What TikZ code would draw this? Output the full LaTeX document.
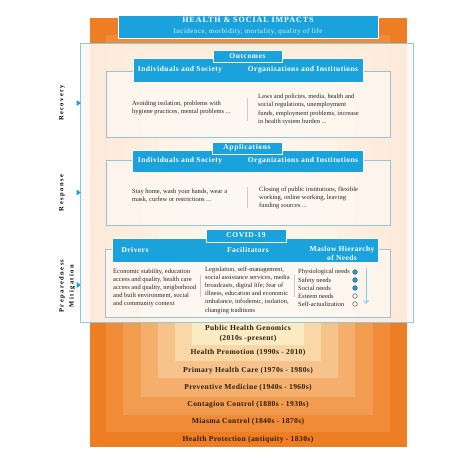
\documentclass[tikz,border=0pt]{standalone}
\usepackage{fontspec}
\setmainfont{Liberation Serif}
\usepackage{xcolor}
\usepackage{tikz}
\usetikzlibrary{
  arrows.meta,
  positioning,
  calc
}

\definecolor{impactblue}{HTML}{1AA2DD}
\definecolor{framecyan}{HTML}{86CBE5}
\definecolor{panelgrey}{HTML}{96C4D0}
\definecolor{bodytext}{HTML}{262626}
\definecolor{eratext}{HTML}{2E1E10}
\definecolor{veil}{HTML}{FFF6EF}
\definecolor{eraA}{HTML}{EE7E24}
\definecolor{eraB}{HTML}{F08B37}
\definecolor{eraC}{HTML}{F29C50}
\definecolor{eraD}{HTML}{F5AF6D}
\definecolor{eraE}{HTML}{F7C38C}
\definecolor{eraF}{HTML}{FAD7A7}
\definecolor{eraG}{HTML}{FCEBC3}

\tikzset{
  era/.style={text=eratext, align=center, inner sep=0pt,
    font=\bfseries\fontsize{7.6}{10}\selectfont\addfontfeatures{LetterSpace=5}},
  tabbox/.style={fill=impactblue, draw=white, line width=0.9pt, text=white, inner sep=0pt,
    font=\bfseries\fontsize{7.5}{9}\selectfont\addfontfeatures{LetterSpace=8}},
  bar/.style={fill=impactblue, draw=white, line width=0.5pt},
  panel/.style={draw=panelgrey, line width=0.6pt, fill=white, fill opacity=0.45},
  headtxt/.style={text=white, align=center, inner sep=0pt,
    font=\bfseries\fontsize{7.5}{9}\selectfont\addfontfeatures{LetterSpace=6}},
  bodytxt/.style={text=bodytext, align=left, inner sep=0pt, anchor=west,
    font=\fontsize{6.5}{8.2}\selectfont},
  phase/.style={rotate=90, align=center, inner sep=0pt,
    font=\bfseries\fontsize{6.5}{10}\selectfont\addfontfeatures{LetterSpace=22}},
  divider/.style={draw=black!20, line width=0.6pt}
}

\begin{document}
\begin{tikzpicture}[x=1pt, y=-1pt]
\useasboundingbox (0,0) rectangle (474,458);

% nested eras of public health
\foreach \l/\r/\t/\b/\c in {90/407/18/447/eraA, 106/390/35/432/eraB, 123/373/52/415/eraC,
    141/355/69/397/eraD, 158/338/86/378/eraE, 175/321/103/361/eraF, 192/304/120/345/eraG}
  \fill[\c] (\l,\t) rectangle (\r,\b);

\node[era] (genomics) at (248,334) {Public Health Genomics\\(2010s -present)};
\node[era] (promotion) at (248,353) {Health Promotion (1990s - 2010)};
\node[era] (primary) at (248,370.5) {Primary Health Care (1970s - 1980s)};
\node[era] (preventive) at (248,388) {Preventive Medicine (1940s - 1960s)};
\node[era] (contagion) at (248,405) {Contagion Control (1880s - 1930s)};
\node[era] (miasma) at (248,422) {Miasma Control (1840s - 1870s)};
\node[era] (protection) at (248,439.5) {Health Protection (antiquity - 1830s)};

% pale frame over the eras
\draw[draw=framecyan, line width=0.8pt, fill=veil, fill opacity=0.9] (80,43) rectangle (413,322);

\node[fill=impactblue, draw=white, line width=0.8pt, minimum width=260pt, minimum height=23pt,
      align=center, text=white, inner sep=0pt] (impacts) at (248,26.5)
  {{\bfseries\fontsize{8}{10}\selectfont\addfontfeatures{LetterSpace=12}HEALTH \& SOCIAL IMPACTS}\\[-1pt]
   {\fontsize{7}{9}\selectfont\addfontfeatures{LetterSpace=7}\color{white!88!impactblue}Incidence, morbidity, mortality, quality of life}};

% phases
\fill[impactblue] (81,103) -- (76.5,100) -- (76.5,106) -- cycle;
\fill[impactblue] (81,192.5) -- (76.5,189.5) -- (76.5,195.5) -- cycle;
\fill[impactblue] (81,285) -- (76.5,282) -- (76.5,288) -- cycle;
\node[phase] (recovery) at (62,103) {Recovery};
\node[phase] (response) at (62,193) {Response};
\node[phase] (preparedness) at (67,286) {Preparedness\\Mitigation};

% outcomes
\draw[panel] (106,71) rectangle (390,137);
\draw[bar] (133,58) rectangle (363,82);
\node[tabbox, minimum width=69pt, minimum height=12pt] (outcomes) at (247.5,56) {Outcomes};
\node[headtxt] (outindiv) at (180,70) {Individuals and Society};
\node[headtxt] (outorg) at (303,70) {Organizations and Institutions};
\node[bodytxt] (outindivtxt) at (132,108) {Avoiding isolation, problems with\\hygiene practices, mental problems ...};
\draw[divider] (247,98) -- (247,121);
\node[bodytxt] (outorgtxt) at (258,109.5) {Laws and policies, media, health and\\social regulations, unemployment\\funds, employment problems, increase\\in health system burden ...};

% applications
\draw[panel] (106,160) rectangle (390,225);
\draw[bar] (132,150) rectangle (363,172);
\node[tabbox, minimum width=70pt, minimum height=12pt] (applications) at (247,148) {Applications};
\node[headtxt] (appindiv) at (180,160.5) {Individuals and Society};
\node[headtxt] (apporg) at (303,160.5) {Organizations and Institutions};
\node[bodytxt] (appindivtxt) at (132,196) {Stay home, wash your hands, wear a\\mask, curfew or restrictions ...};
\draw[divider] (247,187) -- (247,208);
\node[bodytxt] (apporgtxt) at (259,198) {Closing of public institutions, flexible\\working, online working, leaving\\funding sources ...};

% covid-19
\draw[panel] (105,249) rectangle (390,317);
\draw[bar] (112,238) rectangle (378,262);
\node[tabbox, minimum width=80pt, minimum height=13pt] (covid) at (246,235.5) {COVID-19};
\node[headtxt] (drivers) at (135,250) {Drivers};
\node[headtxt] (facilitators) at (248,250) {Facilitators};
\node[headtxt, font=\bfseries\fontsize{7.5}{8.5}\selectfont\addfontfeatures{LetterSpace=5}] (maslow) at (342,253.5) {Maslow Hierarchy\\of Needs};
\node[bodytxt] (driverstxt) at (113,288) {Economic stability, education\\access and quality, health care\\access and quality, neigborhood\\and built environment, social\\and community context};
\draw[divider] (200,275) -- (200,297);
\node[bodytxt] (facilitatorstxt) at (205,290) {Legislation, self-management,\\social assistance services, media\\broadcasts, digital life; fear of\\illness, education and economic\\imbalance, infodemic, isolation,\\changing traditions};
\draw[divider] (294,275) -- (294,297);
\node[bodytxt] (needs) at (298,288) {Physiological needs\\Safety needs\\Social needs\\Esteem needs\\Self-actualization};
\foreach \y/\c in {272/impactblue, 280/impactblue, 288/impactblue, 296/white, 304/white}
  \draw[fill=\c, draw=black!70, line width=0.5pt] (355,\y) circle (2.3pt);
\coordinate (needstop) at (366,268);
\coordinate (needsbot) at (366,304);
\draw[framecyan, line width=0.8pt, -{Straight Barb[length=3pt, width=5pt]}] (needstop) -- (needsbot);

\end{tikzpicture}
\end{document}
